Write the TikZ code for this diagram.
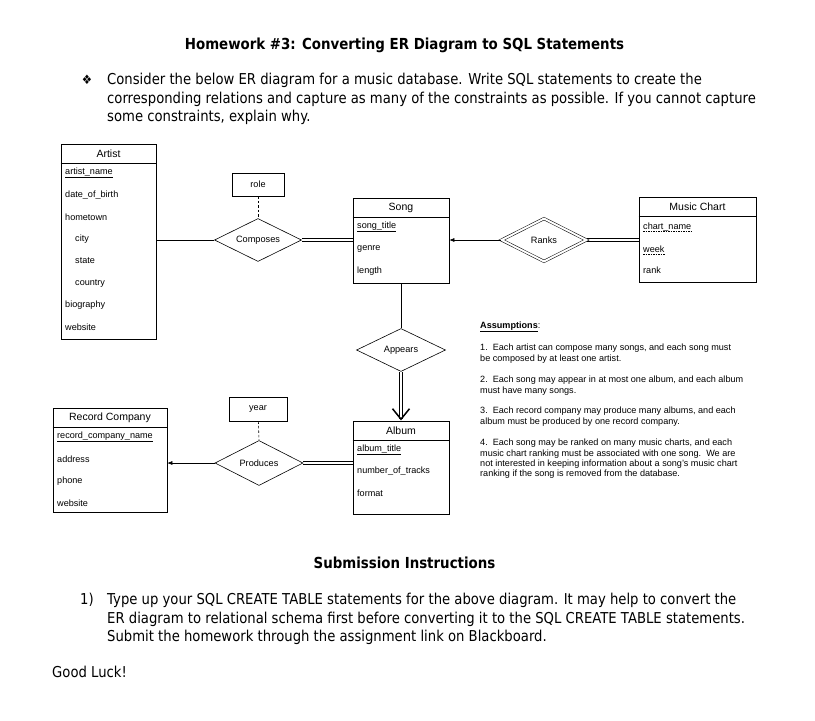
\documentclass[tikz,border=0pt]{standalone}
\usepackage{fontspec}
\usetikzlibrary{shapes.geometric,arrows.meta}
\setmainfont{Liberation Sans}
\newfontfamily\docfont[FakeStretch=0.88]{DejaVu Sans}

\tikzset{
    box/.style={draw, line width=0.6pt, inner sep=0pt},
    ename/.style={inner sep=0pt, font=\fontsize{10.5}{12}\selectfont},
    attr/.style={anchor=west, inner sep=0pt, font=\fontsize{9.1}{10}\selectfont},
    rel/.style={draw, diamond, aspect=2, line width=0.6pt, inner sep=0pt, font=\fontsize{9.2}{10}\selectfont},
    thinline/.style={line width=0.5pt},
    arr/.style={-{Latex[length=5pt,width=4pt]}, line width=0.6pt},
    dotted line/.style={line width=0.6pt, dash pattern=on 2.5pt off 2pt},
    note/.style={anchor=north west, align=left, inner sep=0pt, font=\fontsize{9.1}{10.3}\selectfont},
    doc/.style={inner sep=0pt, font=\docfont\fontsize{15}{18.5}\selectfont},
    dochead/.style={inner sep=0pt, font=\docfont\bfseries\fontsize{15.2}{18}\selectfont}
}

\begin{document}
\begin{tikzpicture}[x=1pt, y=-1pt]
    % FULL
    \fill[white] (0,0) rectangle (815,721);
    \useasboundingbox (0,0) rectangle (815,721);

    % CAPÇALERA
    \node[dochead] (title) at (404.5,45) {Homework \#3: Converting ER Diagram to SQL Statements};
    \node[doc, font=\docfont\fontsize{13}{14}\selectfont] (bullet) at (87,80) {❖};
    \node[doc, anchor=north west, align=left] (intro) at (107,73) {Consider the below ER diagram for a music database. Write SQL statements to create the\\
        corresponding relations and capture as many of the constraints as possible. If you cannot capture\\
        some constraints, explain why.};

    % ENTITATS
    \node[box, minimum width=95pt, minimum height=195pt] (artist) at (108.5,241.5) {};
    \node[box, minimum width=96pt, minimum height=85pt] (song) at (401,240.5) {};
    \node[box, minimum width=117pt, minimum height=85pt] (chart) at (697.5,239.5) {};
    \node[box, minimum width=96pt, minimum height=93pt] (album) at (401,467.5) {};
    \node[box, minimum width=114pt, minimum height=104pt] (company) at (110,460) {};
    \foreach \e/\t in {artist/Artist, song/Song, chart/Music Chart, album/Album, company/Record Company} {
        \draw[line width=0.6pt] ([yshift=-19.5pt]\e.north west) -- ([yshift=-19.5pt]\e.north east);
        \node[ename] at ([yshift=-10pt]\e.north) {\t};
    }

    % ATRIBUTS
    \node[attr] (aname) at (65,173) {\underline{artist\_name}};
    \foreach \y/\t/\x in {195/date\_of\_birth/65, 217/hometown/65, 239/city/75, 261/state/75,
        283/country/75, 305/biography/65, 327/website/65} {
        \node[attr] at (\x,\y) {\t};
    }
    \node[attr] (stitle) at (357,227) {\underline{song\_title}};
    \node[attr] at (357,249) {genre};
    \node[attr] at (357,271) {length};
    \node[attr] (cname) at (643,227) {chart\_name};
    \node[attr] (week) at (643,249) {week};
    \node[attr] at (643,270) {rank};
    \foreach \n in {cname, week} {
        \draw[line width=0.4pt, dash pattern=on 1.5pt off 1pt] ([yshift=-1.5pt]\n.base west) -- ([yshift=-1.5pt]\n.base east);
    }
    \node[attr] (atitle) at (357,450) {\underline{album\_title}};
    \node[attr] at (357,471) {number\_of\_tracks};
    \node[attr] at (357,493) {format};
    \node[attr] (rcname) at (57,437) {\underline{record\_company\_name}};
    \foreach \y/\t in {459/address, 481/phone, 503/website} {
        \node[attr] at (57,\y) {\t};
    }
    \node[box, minimum width=52pt, minimum height=23pt, font=\fontsize{9.1}{10}\selectfont] (role) at (258,184.5) {role};
    \node[box, minimum width=58pt, minimum height=24pt, font=\fontsize{9.1}{10}\selectfont] (year) at (258,409) {year};

    % RELACIONS
    \node[rel, minimum width=87pt, minimum height=43pt] (composes) at (258,240) {Composes};
    \node[rel, minimum width=89pt, minimum height=43pt] (appears) at (401,350) {Appears};
    \node[rel, minimum width=88pt, minimum height=45pt] (produces) at (259,463) {Produces};
    \node[rel, double, double distance=2pt, line width=0.5pt, minimum width=85pt, minimum height=43pt] (ranks) at (544,240) {Ranks};

    % CONNECTORS
    \draw[line width=0.6pt] (artist.east |- composes.west) -- (composes.west);
    \draw[dotted line] (role) -- (composes.north);
    \draw[arr] (ranks.west) -- (ranks.west -| song.east);
    \draw[line width=0.6pt] (song.south) -- (appears.north);
    \draw[dotted line] (year) -- (produces.north);
    \draw[arr] (produces.west) -- (produces.west -| company.east);
    % participació total (línia doble)
    \foreach \s in {-1.3pt, 1.3pt} {
        \draw[thinline] ([yshift=\s]composes.east) -- ([yshift=\s]composes.east -| song.west);
        \draw[thinline] ([yshift=\s]ranks.east) -- ([yshift=\s]ranks.east -| chart.west);
        \draw[thinline] ([yshift=\s]produces.east) -- ([yshift=\s]produces.east -| album.west);
        \draw[thinline] ([xshift=\s]appears.south) -- ([xshift=\s,yshift=2pt]appears.south |- album.north);
    }
    \draw[line width=1.5pt] ([xshift=-8.5pt,yshift=12pt]album.north) -- ([yshift=1.5pt]album.north) -- ([xshift=8.5pt,yshift=12pt]album.north);

    % SUPÒSITS
    \node[anchor=west, inner sep=0pt, font=\fontsize{9.1}{10}\selectfont] (asm) at (480,327) {\underline{\textbf{Assumptions}}:};
    \node[note] (a1) at (480,344) {1.\ \ Each artist can compose many songs, and each song must\\
        be composed by at least one artist.};
    \node[note] (a2) at (480,376) {2.\ \ Each song may appear in at most one album, and each album\\
        must have many songs.};
    \node[note] (a3) at (480,407) {3.\ \ Each record company may produce many albums, and each\\
        album must be produced by one record company.};
    \node[note] (a4) at (480,439) {4.\ \ Each song may be ranked on many music charts, and each\\
        music chart ranking must be associated with one song.\ \ We are\\
        not interested in keeping information about a song's music chart\\
        ranking if the song is removed from the database.};

    % INSTRUCCIONS
    \node[dochead] (subm) at (404.5,563) {Submission Instructions};
    \node[doc, anchor=west] (num) at (80,600) {1)};
    \node[doc, anchor=north west, align=left] (step) at (107,593) {Type up your SQL CREATE TABLE statements for the above diagram. It may help to convert the\\
        ER diagram to relational schema first before converting it to the SQL CREATE TABLE statements.\\
        Submit the homework through the assignment link on Blackboard.};
    \node[doc, anchor=west] (luck) at (52,672) {Good Luck!};
\end{tikzpicture}
\end{document}
